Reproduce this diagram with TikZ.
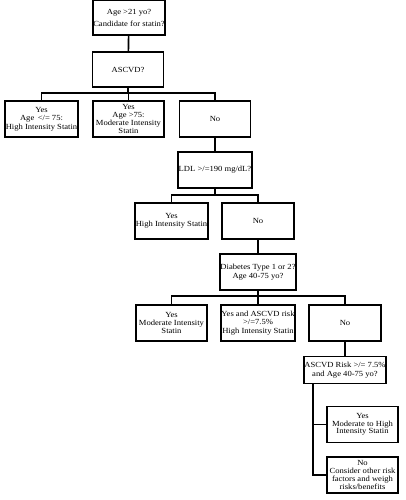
\documentclass[tikz,border=0pt]{standalone}
\usepackage{fontspec}
\setmainfont{Liberation Serif}[FakeStretch=1.1]
\usetikzlibrary{calc}
\begin{document}
\begin{tikzpicture}[x=1pt,y=-1pt,
  box/.style={draw=black,line width=1.7pt,fill=white,minimum width=71pt,minimum height=36pt,
    inner sep=0.5pt,align=center,font=\fontsize{7.8}{8.3}\selectfont},
  link/.style={draw=black,line width=1.7pt}]
\useasboundingbox (0,0) rectangle (406,500);
% decision nodes and outcomes
\node[box,minimum height=35pt,font=\fontsize{7.8}{12}\selectfont] (start) at (129,17.8) {Age >21 yo?\\Candidate for statin?};
\node[box,minimum height=35pt] (ascvd) at (128,69.5) {ASCVD?};
\node[box] (hiA) at (41.5,119) {Yes\\Age \,</= 75:\\High Intensity Statin};
\node[box] (modA) at (128.5,119) {Yes\\Age >75:\\Moderate Intensity\\Statin};
\node[box] (noA) at (215,119) {No};
\node[box,minimum width=72pt] (ldl) at (215,170) {LDL >/=190 mg/dL?};
\node[box] (hiB) at (171.5,221) {Yes\\High Intensity Statin};
\node[box,minimum width=72pt] (noB) at (258,221) {No};
\node[box,minimum width=72pt] (diab) at (258,272) {Diabetes Type 1 or 2?\\Age 40-75 yo?};
\node[box] (modC) at (171.5,323) {Yes\\Moderate Intensity\\Statin};
\node[box,minimum width=72pt] (hiC) at (258,323) {Yes and ASCVD risk\\>/=7.5\%\\High Intensity Statin};
\node[box,minimum width=72pt] (noC) at (345,323) {No};
\node[box,minimum width=76pt,minimum height=27pt] (risk) at (345,370) {ASCVD Risk >/= 7.5\%\\and Age 40-75 yo?};
\node[box,font=\fontsize{7.8}{7.7}\selectfont] (modD) at (362.5,424.5) {Yes\\Moderate to High\\Intensity Statin};
\node[box,font=\fontsize{7.8}{7.7}\selectfont] (noD) at (362.5,475) {No\\Consider other risk\\factors and weigh\\risks/benefits};
% connectors
\draw[link] (start) -- (ascvd);
\coordinate (busA) at ($(ascvd.south |- hiA.north)+(0,-7)$);
\draw[link] (ascvd) -- (busA);
\draw[link] (hiA.north) -- ++(0,-7) -| (noA.north);
\draw[link] (modA.north) -- (modA.north |- busA);
\draw[link] (noA) -- (ldl);
\draw[link] (ldl.south) -- ($(ldl.south |- hiB.north)+(0,-7)$);
\draw[link] (hiB.north) -- ++(0,-7) -| (noB.north);
\draw[link] (noB) -- (diab);
\draw[link] (diab.south) -- ($(diab.south |- modC.north)+(0,-8)$);
\draw[link] (modC.north) -- ++(0,-8) -| (noC.north);
\draw[link] (hiC.north) -- ++(0,-8);
\draw[link] (noC) -- (risk);
\coordinate (trunk) at ($(risk.south west)+(10,0)$);
\draw[link] (trunk) |- (noD.west);
\draw[link] (modD.west) -- (modD.west -| trunk);
\end{tikzpicture}
\end{document}
